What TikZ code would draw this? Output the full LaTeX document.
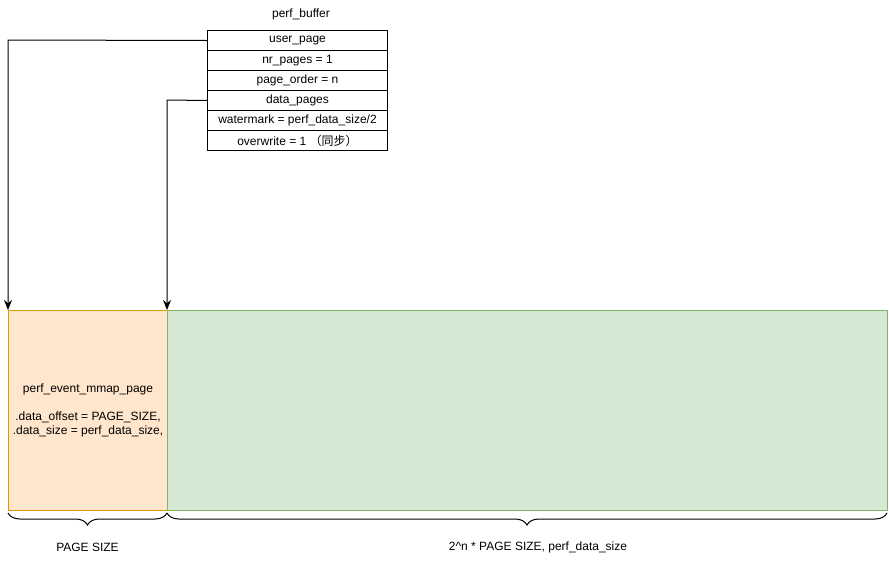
\documentclass[tikz,border=0pt]{standalone}
\usepackage{fontspec}
\setmainfont{Liberation Sans}
\newfontfamily\cjk{Noto Sans CJK SC}
\usetikzlibrary{arrows.meta,decorations.pathreplacing}
\definecolor{orfill}{HTML}{FFE6CC}
\definecolor{ordraw}{HTML}{D79B00}
\definecolor{grfill}{HTML}{D5E8D4}
\definecolor{grdraw}{HTML}{82B366}
\tikzset{
  cell/.style={draw=black, line width=1pt, minimum width=180pt, minimum height=20pt, inner sep=0pt, anchor=north west, font=\fontsize{12pt}{14pt}\selectfont},
  lbl/.style={font=\fontsize{12pt}{14pt}\selectfont, inner sep=0pt},
  conn/.style={line width=1pt, -{Stealth[length=10pt,width=8pt]}},
  brc/.style={line width=1pt, decorate, decoration={brace, mirror, amplitude=12pt}}
}
\begin{document}
\begin{tikzpicture}[x=1pt,y=-1pt]
\useasboundingbox (0,0) rectangle (889,563);
\node[lbl] (title) at (301,14) {perf\_buffer};
\node[cell] (c1) at (207,30) {user\_page};
\node[cell] (c2) at (207,50) {nr\_pages = 1};
\node[cell] (c3) at (207,70) {page\_order = n};
\node[cell] (c4) at (207,90) {data\_pages};
\node[cell] (c5) at (207,110) {watermark = perf\_data\_size/2};
\node[cell] (c6) at (207,130) {overwrite = 1 {\cjk （同步）}};
\node[draw=ordraw, fill=orfill, line width=1pt, minimum width=159pt, minimum height=200pt, inner sep=0pt, anchor=north west, align=center, font=\fontsize{12pt}{14pt}\selectfont] (meta) at (8,310) {perf\_event\_mmap\_page\\[14pt].data\_offset = PAGE\_SIZE,\\.data\_size = perf\_data\_size,};
\node[draw=grdraw, fill=grfill, line width=1pt, minimum width=720pt, minimum height=200pt, inner sep=0pt, anchor=north west] (data) at (167,310) {};
\draw[conn] (c1.west) -- (8,40) -- (meta.north west);
\draw[conn] (c4.west) -- (167,100) -- (data.north west);
\coordinate (b1) at (8,513);
\coordinate (b2) at (167,513);
\coordinate (b3) at (887,513);
\draw[brc] (b1) -- (b2);
\draw[brc] (b2) -- (b3);
\node[lbl] (l1) at (87.5,547) {PAGE SIZE};
\node[lbl] (l2) at (538,547) {2\^{}n * PAGE SIZE, perf\_data\_size};
\end{tikzpicture}
\end{document}
